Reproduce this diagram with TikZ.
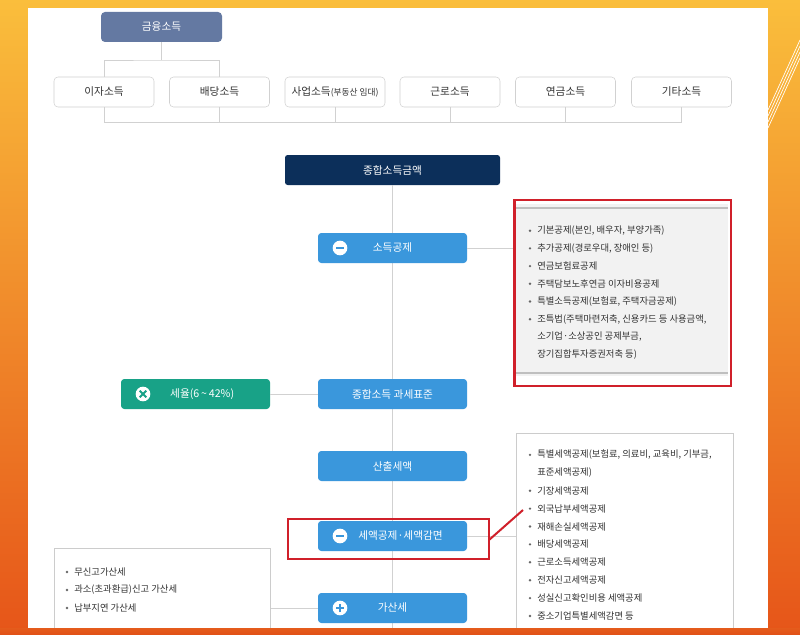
\documentclass[tikz,border=0pt]{standalone}
\usepackage{fontspec}
\setmainfont{Noto Sans CJK KR}
\begin{document}
\begin{tikzpicture}[x=0.75pt,y=-0.75pt,
  wbox/.style={draw=black!18,fill=white,rounded corners=3pt,minimum width=75pt,minimum height=22.5pt,font=\fontsize{8}{9}\selectfont,text=black!80},
  bbox/.style={fill=bluebox,rounded corners=2.5pt,minimum width=111.75pt,minimum height=22.5pt,font=\fontsize{8}{9}\selectfont,text=white},
  conn/.style={draw=black!18,line width=0.6pt},
  icon/.style={circle,fill=white,inner sep=0pt,minimum size=11pt,font=\bfseries\fontsize{9}{9}\selectfont},
  lst/.style={anchor=west,font=\fontsize{7}{8}\selectfont,text=black!80,inner sep=0pt}]
\definecolor{bluebox}{HTML}{3A97DC}
\definecolor{navy}{HTML}{0C2F5A}
\definecolor{slate}{HTML}{6479A2}
\definecolor{greenbox}{HTML}{18A287}
\definecolor{redb}{HTML}{D0202A}
\useasboundingbox (0,0) rectangle (800,635);
\shade[top color={rgb,255:red,250;green,190;blue,60},bottom color={rgb,255:red,230;green,85;blue,25}] (0,0) rectangle (800,635);
\foreach \d in {0,6,12,18}{\draw[white,line width=0.5pt] (800,40+\d) -- (768,110+\d);}
\fill[white] (28,8) rectangle (768,628);
% top
\node[fill=slate,rounded corners=3pt,minimum width=90.75pt,minimum height=22.5pt,text=white,font=\fontsize{8}{9}\selectfont] (fin) at (161.5,27) {금융소득};
\node[wbox] (a1) at (104,92) {이자소득};
\node[wbox] (a2) at (219.5,92) {배당소득};
\node[wbox] (a3) at (335,92) {사업소득{\fontsize{6.5}{7}\selectfont(부동산 임대)}};
\node[wbox] (a4) at (450,92) {근로소득};
\node[wbox] (a5) at (565.5,92) {연금소득};
\node[wbox] (a6) at (681.5,92) {기타소득};
\coordinate (j) at (161.5,60);
\draw[conn] (fin.south) -- (j);
\draw[conn] (a1.north) |- (j) -| (a2.north);
\coordinate (b) at (104,122);
\coordinate (b6) at (681.5,122);
\draw[conn] (a1.south) -- (b) -- (b6) -- (a6.south);
\foreach \n in {a2,a3,a4,a5}{\draw[conn] (\n.south) -- (\n.south |- b);}
% main column
\node[fill=navy,rounded corners=2pt,minimum width=161.25pt,minimum height=22.5pt,text=white,font=\fontsize{8}{9}\selectfont] (tot) at (392.5,170) {종합소득금액};
\coordinate (end) at (392.5,635);
\draw[conn] (tot.south) -- (end);
\node[bbox] (d1) at (392.5,248) {소득공제};
\node[bbox] (d2) at (392.5,394) {종합소득 과세표준};
\node[bbox] (d3) at (392.5,466) {산출세액};
\node[bbox] (d4) at (392.5,536) {\hspace{12pt}세액공제·세액감면};
\node[bbox] (d5) at (392.5,608) {가산세};
\node[fill=greenbox,rounded corners=2.5pt,minimum width=111.75pt,minimum height=22.5pt,font=\fontsize{8}{9}\selectfont,text=white] (rate) at (195.5,394) {\hspace{10pt}세율(6\,\textasciitilde\,42\%)};
\node[icon] (i1) at (340,248) {};
\node[icon] (i4) at (340,536) {};
\node[icon] (i5) at (340,608) {};
\node[icon] (i2) at (143,394) {};
\foreach \n in {i1,i4,i5}{\draw[bluebox,line width=1.6pt] ([xshift=-3pt]\n.center) -- ([xshift=3pt]\n.center);}
\draw[bluebox,line width=1.6pt] ([yshift=-3pt]i5.center) -- ([yshift=3pt]i5.center);
\draw[greenbox,line width=1.4pt] ([shift={(-2.5pt,-2.5pt)}]i2.center) -- ([shift={(2.5pt,2.5pt)}]i2.center) ([shift={(-2.5pt,2.5pt)}]i2.center) -- ([shift={(2.5pt,-2.5pt)}]i2.center);
\draw[conn] (rate.east) -- (d2.west);
% box 1
\node[fill=black!5,minimum width=159pt,minimum height=129pt,inner sep=0pt] (r1) at (622,290) {};
\draw[black!25,line width=0.8pt] (516,208) -- (728,208) (516,373) -- (728,373);
\draw[conn] (d1.east) -- (d1.east -| r1.west);
\draw[redb,line width=2.2pt] (514.5,200) rectangle (731,386);
\foreach \t [count=\i] in {{기본공제(본인, 배우자, 부양가족)},{추가공제(경로우대, 장애인 등)},연금보험료공제,주택담보노후연금 이자비용공제,{특별소득공제(보험료, 주택자금공제)},{조특법(주택마련저축, 신용카드 등 사용금액,},{소기업·소상공인 공제부금,},{장기집합투자증권저축 등)}}{
  \node[lst] at (537,213+17.7*\i) {\t};}
\foreach \i in {1,...,6}{\fill[black!60] (530,213+17.7*\i) circle (1pt);}
% box 2
\node[draw=black!20,fill=white,minimum width=162.75pt,minimum height=150pt,inner sep=0pt,anchor=north west] (r2) at (516,433) {};
\draw[conn] (d4.east) -- (d4.east -| r2.west);
\foreach \t [count=\i] in {{특별세액공제(보험료, 의료비, 교육비, 기부금,},{표준세액공제)},기장세액공제,외국납부세액공제,재해손실세액공제,배당세액공제,근로소득세액공제,전자신고세액공제,성실신고확인비용 세액공제,중소기업특별세액감면 등}{
  \node[lst] at (537,437+17.9*\i) {\t};}
\foreach \i in {1,3,4,...,10}{\fill[black!60] (530,437+17.9*\i) circle (1pt);}
\draw[redb,line width=2.2pt] (288,519) rectangle (489,559);
\coordinate (rp) at (523,510);
\draw[redb,line width=1.5pt] (489,540) -- (rp);
% box 3
\node[draw=black!20,fill=white,minimum width=162pt,minimum height=70pt,inner sep=0pt,anchor=north west] (r3) at (54,548) {};
\draw[conn] (d5.west) -- (d5.west -| r3.east);
\foreach \t [count=\i] in {무신고가산세,과소(초과환급)신고 가산세,납부지연 가산세}{
  \node[lst] at (74,554+18*\i) {\t}; \fill[black!60] (67,554+18*\i) circle (1pt);}
% bottom band
\shade[top color={rgb,255:red,228;green,92;blue,28},bottom color={rgb,255:red,225;green,80;blue,22}] (0,628) rectangle (800,635);
\end{tikzpicture}
\end{document}
